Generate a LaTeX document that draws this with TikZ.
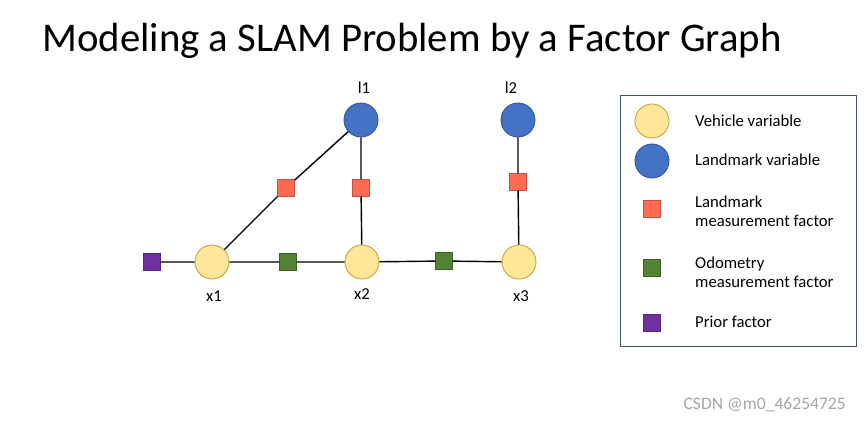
\documentclass[tikz,border=0pt]{standalone}
\usepackage{fontspec}
\setmainfont{Carlito}
\begin{document}
\begin{tikzpicture}[x=0.02cm,y=-0.02cm,
 var/.style={circle,minimum size=0.68cm,inner sep=0pt,line width=0.5pt},
 veh/.style={var,fill=yellowc,draw=yellowb},
 lm/.style={var,fill=bluec,draw=blueb},
 fac/.style={rectangle,minimum size=0.33cm,inner sep=0pt,line width=0.4pt},
 lmf/.style={fac,fill=redc,draw=redb},
 odf/.style={fac,fill=greenc,draw=greenb},
 prf/.style={fac,fill=purplec,draw=purpleb},
 lab/.style={font=\fontsize{9.5}{11}\selectfont,text=black},
 edge/.style={line width=0.8pt,black}]
\definecolor{yellowc}{HTML}{FFE699}\definecolor{yellowb}{HTML}{C9A13A}
\definecolor{bluec}{HTML}{4472C4}\definecolor{blueb}{HTML}{2F5597}
\definecolor{redc}{HTML}{FF6A50}\definecolor{redb}{HTML}{C0504D}
\definecolor{greenc}{HTML}{548235}\definecolor{greenb}{HTML}{3E6127}
\definecolor{purplec}{HTML}{7030A0}\definecolor{purpleb}{HTML}{5A2482}
\definecolor{legb}{HTML}{44546A}
\useasboundingbox[fill=white] (0,0) rectangle (867,422);
\node[anchor=base west,font=\fontsize{23.2}{27}\selectfont,inner sep=0pt] (title) at (42,52) {Modeling a SLAM Problem by a Factor Graph};
% nodes
\node[veh] (x1) at (212,262) {};
\node[veh] (x2) at (362,262) {};
\node[veh] (x3) at (519,262) {};
\node[lm] (l1) at (361,120) {};
\node[lm] (l2) at (518,120) {};
\node[prf] (p) at (152,262) {};
\node[odf] (o1) at (288,262) {};
\node[odf] (o2) at (444,261) {};
\node[lmf] (f1) at (286,188) {};
\node[lmf] (f2) at (361,188) {};
\node[lmf] (f3) at (518,182) {};
\draw[edge] (p) -- (x1) -- (o1) -- (x2) -- (o2) -- (x3);
\draw[edge] (x1) -- (f1) -- (l1);
\draw[edge] (x2) -- (f2) -- (l1);
\draw[edge] (x3) -- (f3) -- (l2);
\node[lab] (tx1) at (214,296) {x1};
\node[lab] (tx2) at (362,294) {x2};
\node[lab] (tx3) at (521,296) {x3};
\node[lab] (tl1) at (364,88) {l1};
\node[lab] (tl2) at (511,88) {l2};
% legend
\node[draw=legb,line width=0.6pt,minimum width=4.72cm,minimum height=5.02cm,anchor=north west,inner sep=0pt] (legend) at (620,95) {};
\node[veh] (ly) at (652,121) {};
\node[lm] (lb) at (652,161) {};
\node[lmf] (lr) at (652,209) {};
\node[odf] (lg) at (652,268) {};
\node[prf] (lp) at (652,323) {};
\node[lab,anchor=west] (t1) at (689,121) {Vehicle variable};
\node[lab,anchor=west] (t2) at (689,160) {Landmark variable};
\node[lab,anchor=west,align=left] (t3) at (689,211) {Landmark\\measurement factor};
\node[lab,anchor=west,align=left] (t4) at (689,272) {Odometry\\measurement factor};
\node[lab,anchor=west] (t5) at (689,322) {Prior factor};
\node[anchor=east,font=\fontsize{10}{12}\selectfont,text=gray!70] (wm) at (852,405) {CSDN @m0\_46254725};
\end{tikzpicture}
\end{document}
